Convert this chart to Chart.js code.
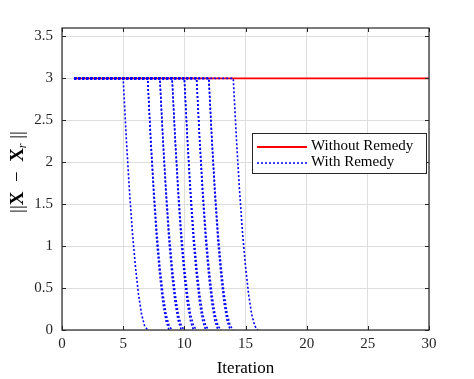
<!DOCTYPE html>
<html>
<head>
<meta charset="utf-8">
<script src="https://cdn.jsdelivr.net/npm/chart.js@4.4.1/dist/chart.umd.min.js"></script>
<style>
  html, body { margin: 0; padding: 0; background: #fff; }
  #wrap { width: 474px; height: 379px; }
</style>
</head>
<body>
<div id="wrap"><canvas id="c" width="474" height="379"></canvas></div>
<script>
// ---- data ----
const iterations = [1,2,3,4,5,6,7,8,9,10,11,12,13,14,15,16,17,18,19,20,21,22,23,24,25,26,27,28,29,30];
const withoutRemedy = [3,3,3,3,3,3,3,3,3,3,3,3,3,3,3,3,3,3,3,3,3,3,3,3,3,3,3,3,3,3];
// iteration at which each "with remedy" run starts to drop
const dropStart = [5, 7, 7, 8, 8, 9, 9, 10, 10, 11, 11, 12, 12, 14];
// shape of the drop for each run (A = slower, B = slightly faster)
const dropKind  = ['A','A','B','A','B','A','B','A','B','A','B','A','B','A'];
const dropOffsets = [0, 0.25, 0.5, 0.75, 1, 1.25, 1.5, 1.75, 2];
const dropValuesA = [3, 2.30, 1.69, 1.17, 0.76, 0.43, 0.19, 0.05, 0];
const dropValuesB = [3, 2.25, 1.60, 1.05, 0.64, 0.32, 0.11, 0, 0];
const xTicks = [0, 5, 10, 15, 20, 25, 30];
const yTicks = [0, 0.5, 1, 1.5, 2, 2.5, 3, 3.5];

// ---- build datasets ----
const redData = iterations.map((x, i) => ({x: x, y: withoutRemedy[i]}));
const blueSets = dropStart.map((k, j) => {
  const vals = dropKind[j] === 'A' ? dropValuesA : dropValuesB;
  const pts = [];
  for (const x of iterations) { if (x <= k) pts.push({x: x, y: 3}); }
  for (let i = 1; i < dropOffsets.length; i++) {
    pts.push({x: k + dropOffsets[i], y: vals[i]});
    if (vals[i] === 0) break;
  }
  return {
    label: 'With Remedy', data: pts, showLine: true, pointRadius: 0,
    borderColor: '#0000ff', borderWidth: 1.6, borderDash: [2, 2],
    tension: 0, order: 1, fill: false
  };
});

const SERIF = '"Liberation Serif", "Times New Roman", serif';

const decor = {
  id: 'decor',
  afterDatasetsDraw(chart) {
    const ctx = chart.ctx, a = chart.chartArea;
    const xs = chart.scales.x, ys = chart.scales.y;
    ctx.save();
    // inner ticks
    ctx.strokeStyle = '#262626'; ctx.lineWidth = 1;
    ctx.beginPath();
    for (const t of xTicks) {
      const px = Math.round(xs.getPixelForValue(t)) + 0.5;
      ctx.moveTo(px, a.bottom); ctx.lineTo(px, a.bottom - 4);
      ctx.moveTo(px, a.top); ctx.lineTo(px, a.top + 4);
    }
    for (const t of yTicks) {
      const py = Math.round(ys.getPixelForValue(t)) + 0.5;
      ctx.moveTo(a.left, py); ctx.lineTo(a.left + 4, py);
      ctx.moveTo(a.right, py); ctx.lineTo(a.right - 4, py);
    }
    ctx.stroke();
    // box
    ctx.strokeStyle = '#262626'; ctx.lineWidth = 1.2;
    ctx.strokeRect(a.left, a.top, a.right - a.left, a.bottom - a.top);

    // legend
    const lx = 252, ly = 133, lw = 174, lh = 40;
    ctx.fillStyle = '#fff';
    ctx.fillRect(lx, ly, lw, lh);
    ctx.strokeStyle = '#262626'; ctx.lineWidth = 1;
    ctx.strokeRect(lx + 0.5, ly + 0.5, lw, lh);
    ctx.lineWidth = 1.8; ctx.strokeStyle = '#ff0000';
    ctx.beginPath(); ctx.moveTo(257, 147); ctx.lineTo(307, 147); ctx.stroke();
    ctx.lineWidth = 1.6; ctx.strokeStyle = '#0000ff'; ctx.setLineDash([2, 2]);
    ctx.beginPath(); ctx.moveTo(257, 163); ctx.lineTo(307, 163); ctx.stroke();
    ctx.setLineDash([]);
    ctx.fillStyle = '#000'; ctx.font = '15px ' + SERIF;
    ctx.textBaseline = 'middle'; ctx.textAlign = 'left';
    ctx.fillText('Without Remedy', 311, 146);
    ctx.fillText('With Remedy', 311, 162);

    // y-axis title: ||X − X_r||
    ctx.translate(18, 172);
    ctx.rotate(-Math.PI / 2);
    const parts = [
      {t: '||', f: '19px ' + SERIF, dy: 0},
      {t: 'X', f: 'bold 19px ' + SERIF, dy: 0},
      {t: '  \u2212  ', f: '19px ' + SERIF, dy: 0},
      {t: 'X', f: 'bold 19px ' + SERIF, dy: 0},
      {t: 'r', f: 'italic 12px ' + SERIF, dy: 5},
      {t: ' ||', f: '19px ' + SERIF, dy: 0}
    ];
    let total = 0;
    for (const p of parts) { ctx.font = p.f; total += ctx.measureText(p.t).width; }
    let cx = -total / 2;
    ctx.textBaseline = 'middle'; ctx.textAlign = 'left'; ctx.fillStyle = '#000';
    for (const p of parts) {
      ctx.font = p.f; ctx.fillText(p.t, cx, p.dy);
      cx += ctx.measureText(p.t).width;
    }
    ctx.restore();
  }
};

new Chart(document.getElementById('c'), {
  type: 'scatter',
  data: {
    datasets: [
      { label: 'Without Remedy', data: redData, showLine: true, pointRadius: 0,
        borderColor: '#ff0000', borderWidth: 1.8, order: 2, fill: false },
      ...blueSets
    ]
  },
  options: {
    responsive: false, animation: false,
    layout: { padding: { left: 0, top: 28, right: 45, bottom: 0 } },
    plugins: { legend: { display: false }, tooltip: { enabled: false } },
    scales: {
      x: {
        type: 'linear', min: 0, max: 30,
        afterBuildTicks: s => { s.ticks = xTicks.map(v => ({value: v})); },
        afterFit: s => { s.height = 49; },
        grid: { color: '#dedede', lineWidth: 1, drawTicks: false },
        border: { display: false },
        ticks: { color: '#262626', font: { family: SERIF, size: 15 }, padding: 5, maxRotation: 0,
                 callback: v => String(v) },
        title: { display: true, text: 'Iteration', color: '#000',
                 font: { family: SERIF, size: 17 }, padding: { top: 0, bottom: 0 } }
      },
      y: {
        type: 'linear', min: 0, max: 3.6,
        afterBuildTicks: s => { s.ticks = yTicks.map(v => ({value: v})); },
        afterFit: s => { s.width = 62; },
        grid: { color: '#dedede', lineWidth: 1, drawTicks: false },
        border: { display: false },
        ticks: { color: '#262626', font: { family: SERIF, size: 15 }, padding: 9,
                 callback: v => String(v) }
      }
    }
  },
  plugins: [decor]
});
</script>
</body>
</html>
